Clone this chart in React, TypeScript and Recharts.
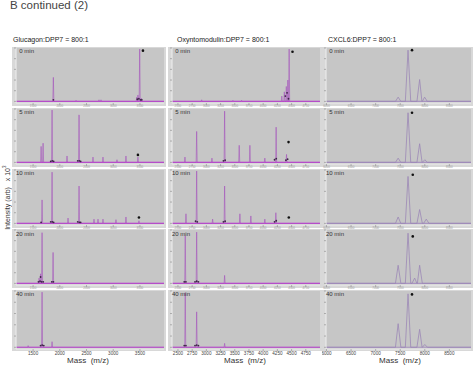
import {
  ComposedChart, Line, XAxis, YAxis, CartesianGrid, ReferenceDot, ReferenceLine,
} from 'recharts'

type Pt = [number, number]

const times = ['0 min', '5 min', '10 min', '20 min', '40 min']

const gluTicks = [1500, 2000, 2500, 3000, 3500]
const oxmTicks = [2500, 2750, 3000, 3250, 3500, 3750, 4000, 4250, 4500, 4750]
const cxcTicks = [6000, 6500, 7000, 7500, 8000, 8500]

// peak lists: [mass, relative intensity]
const gluPeaks0: Pt[] = [[1879, 45], [2304, 2], [2733, 3], [2771, 3], [3440, 8], [3462, 12], [3495, 98], [3525, 6]]
const gluPeaks5: Pt[] = [[1650, 30], [1687, 36], [1855, 98], [2135, 12], [2360, 89], [2621, 10], [2808, 10], [3070, 5], [3238, 12], [3462, 10]]
const gluPeaks10: Pt[] = [[1668, 44], [1855, 96], [2154, 10], [2360, 70], [2640, 8], [2715, 8], [2808, 8], [3051, 7], [3238, 12], [3481, 5]]
const gluPeaks20: Pt[] = [[1612, 10], [1640, 18], [1668, 95], [1874, 58]]
const gluPeaks40: Pt[] = [[1407, 3], [1668, 98], [1855, 10]]

const oxmPeaks0: Pt[] = [[2917, 3], [3467, 2], [3620, 2], [4328, 10], [4372, 18], [4407, 28], [4434, 40], [4457, 98]]
const oxmPeaks5: Pt[] = [[2623, 10], [2829, 58], [3098, 8], [3321, 96], [3578, 32], [3766, 32], [4029, 8], [4228, 66], [4411, 15]]
const oxmPeaks10: Pt[] = [[2641, 18], [2829, 98], [3110, 8], [3321, 70], [3590, 18], [3783, 14], [4029, 8], [4223, 20]]
const oxmPeaks20: Pt[] = [[2628, 89], [2829, 96], [3321, 15]]
const oxmPeaks40: Pt[] = [[2628, 97], [2829, 63], [3321, 7]]

const cxcPeaks0: Pt[] = [[7458, 8], [7659, 96], [7895, 41], [7996, 8]]
const cxcPeaks5: Pt[] = [[7458, 8], [7659, 93], [7895, 35], [8000, 5]]
const cxcPeaks10: Pt[] = [[7458, 12], [7659, 88], [7895, 26], [8030, 8]]
const cxcPeaks20: Pt[] = [[7458, 34], [7659, 94], [7794, 10], [7895, 34]]
const cxcPeaks40: Pt[] = [[7458, 42], [7659, 95], [7895, 32], [8000, 5]]

// asterisk markers (intact peptide)
const gluStars: Pt[][] = [[[3556, 95]], [[3462, 14]], [[3481, 11]], [], []]
const oxmStars: Pt[][] = [[[4516, 93]], [[4446, 38]], [[4451, 11]], [], []]
const cxcStars: Pt[][] = [[[7740, 96]], [[7740, 93]], [[7755, 91]], [[7755, 88]], [[7740, 94]]]

// dark annotation clusters at peak bases
const gluMarks: Pt[][] = [
  [[1879, 3], [3450, 4], [3480, 5], [3510, 3], [3535, 3]],
  [[1830, 2], [1860, 3], [1885, 2], [2335, 3], [2365, 3], [2390, 2]],
  [[1650, 2], [1830, 3], [1860, 3], [1885, 2], [2335, 3], [2365, 2], [2390, 2]],
  [[1600, 3], [1630, 4], [1640, 12], [1660, 3], [1690, 3], [1850, 3], [1880, 3]],
  [[1640, 3], [1670, 4], [1700, 3]],
]
const oxmMarks: Pt[][] = [
  [[4390, 10], [4420, 16], [4445, 5]],
  [[3300, 3], [3330, 4], [4200, 5], [4230, 7], [4400, 4], [4430, 6]],
  [[2810, 4], [2840, 3], [3300, 3], [3330, 4], [4200, 3], [4230, 5]],
  [[2610, 3], [2640, 3], [2800, 3], [2830, 4], [2860, 3]],
  [[2610, 3], [2640, 3], [2800, 3], [2830, 4], [2860, 3]],
]
const cxcMarks: Pt[][] = [[], [], [], [], []]

const columns = [
  { title: 'Glucagon:DPP7 = 800:1', domain: [1180, 3950], ticks: gluTicks, hw: 10,
    peaks: [gluPeaks0, gluPeaks5, gluPeaks10, gluPeaks20, gluPeaks40], stars: gluStars, marks: gluMarks,
    color: '#a452bc', base: '#c84ad6', left: 12, width: 154, titleX: 13, labelX: 88 },
  { title: 'Oxyntomodulin:DPP7 = 800:1', domain: [2395, 5000], ticks: oxmTicks, hw: 9,
    peaks: [oxmPeaks0, oxmPeaks5, oxmPeaks10, oxmPeaks20, oxmPeaks40], stars: oxmStars, marks: oxmMarks,
    color: '#a452bc', base: '#c84ad6', left: 168, width: 154, titleX: 177, labelX: 245 },
  { title: 'CXCL6:DPP7 = 800:1', domain: [5990, 8940], ticks: cxcTicks, hw: 55,
    peaks: [cxcPeaks0, cxcPeaks5, cxcPeaks10, cxcPeaks20, cxcPeaks40], stars: cxcStars, marks: cxcMarks,
    color: '#9c88b6', base: '#a894c0', left: 322, width: 151, titleX: 328, labelX: 400 },
]

const rowTop = [47, 107.8, 168.6, 229.4, 290.2]
const font = '"Liberation Sans", Arial, sans-serif'

function spectrum(peaks: Pt[], domain: number[], hw: number) {
  const pts = [{ m: domain[0], v: 0 }, { m: domain[1], v: 0 }]
  peaks.forEach(([m, h]) => {
    pts.push({ m: m - hw, v: 0 }, { m, v: h }, { m: m + hw, v: 0 })
  })
  return pts.sort((a, b) => a.m - b.m)
}

function Panel({ ci, ri }: { ci: number; ri: number }) {
  const c = columns[ci]
  const last = ri === 4
  const top = rowTop[ri]
  const h = last ? 70 : 61
  const data = spectrum(c.peaks[ri], c.domain, c.hw)
  return (
    <div style={{ position: 'absolute', left: c.left, top, width: c.width, height: h }}>
      <div style={{ position: 'absolute', left: 0, top: 0, width: c.width, height: last ? 61 : 59, background: '#d8d8d8' }} />
      <div style={{ position: 'absolute', left: 0, top: 0 }}>
        <ComposedChart width={c.width} height={h} margin={{ top: 1, right: 2, bottom: last ? 0 : 1, left: 0 }}>
          <CartesianGrid horizontal={false} vertical={false} fill="#c6c6c6" stroke="none" />
          <XAxis dataKey="m" type="number" domain={c.domain} ticks={c.ticks} allowDataOverflow interval={0}
            height={last ? 11 : 4} tickSize={2} tickMargin={last ? 1 : 0}
            axisLine={{ stroke: '#ececec' }} tickLine={{ stroke: '#8a8a8a', strokeWidth: 0.6 }}
            tick={{ fontSize: last ? 4.6 : 3, fill: last ? '#444' : '#9a9a9a', fontFamily: font }} />
          <YAxis type="number" domain={[-3, 100]} ticks={[0, 20, 40, 60, 80, 100]} allowDataOverflow width={4}
            tickSize={2} tickFormatter={() => ''} axisLine={{ stroke: '#efefef' }}
            tickLine={{ stroke: '#8a8a8a', strokeWidth: 0.6 }} />
          <ReferenceLine y={0} stroke={c.base} strokeWidth={1.1} />
          <Line data={data} dataKey="v" type="linear" stroke={c.color} strokeWidth={ci === 2 ? 0.8 : 0.6}
            dot={false} activeDot={false} isAnimationActive={false} />
          {c.marks[ri].map(([m, v], i) => (
            <ReferenceDot key={'k' + i} x={m} y={v} r={0.9} fill="#3c2446" stroke="none" />
          ))}
          {c.stars[ri].map(([m, v], i) => (
            <ReferenceDot key={'s' + i} x={m} y={v} r={1.3} fill="#111" stroke="none" />
          ))}
        </ComposedChart>
      </div>
      <div style={{ position: 'absolute', left: 0, width: 22, top: 1.2, textAlign: 'right',
        fontSize: 6, lineHeight: 1, color: '#333', fontFamily: font, whiteSpace: 'nowrap' }}>
        {times[ri]}
      </div>
    </div>
  )
}

export default function App() {
  return (
    <div style={{ position: 'absolute', left: 0, top: 0, width: 474, height: 366, background: '#fff', overflow: 'hidden', fontFamily: font }}>
      <div style={{ position: 'absolute', left: 10, top: 0, fontSize: 11.5, lineHeight: 1, color: '#444' }}>
        B continued (2)
      </div>
      {columns.map((c, ci) => (
        <div key={'t' + ci} style={{ position: 'absolute', left: c.titleX, top: 36, fontSize: 7, lineHeight: 1, color: '#222', whiteSpace: 'nowrap' }}>
          {c.title}
        </div>
      ))}
      {columns.map((c, ci) => (
        <div key={'x' + ci} style={{ position: 'absolute', left: c.labelX - 40, width: 80, top: 357, textAlign: 'center', fontSize: 8, lineHeight: 1, color: '#333', whiteSpace: 'pre' }}>
          {'Mass  (m/z)'}
        </div>
      ))}
      <div style={{ position: 'absolute', left: 7, top: 198, width: 0, height: 0 }}>
        <div style={{ position: 'absolute', left: -50, top: -4, width: 100, textAlign: 'center', fontSize: 7, lineHeight: 1,
          color: '#333', whiteSpace: 'pre', transform: 'rotate(-90deg)' }}>
          {'Intensity (arb)   x 10'}<sup style={{ fontSize: 4.5 }}>3</sup>
        </div>
      </div>
      {columns.map((_, ci) => times.map((_, ri) => <Panel key={ci + '-' + ri} ci={ci} ri={ri} />))}
    </div>
  )
}
